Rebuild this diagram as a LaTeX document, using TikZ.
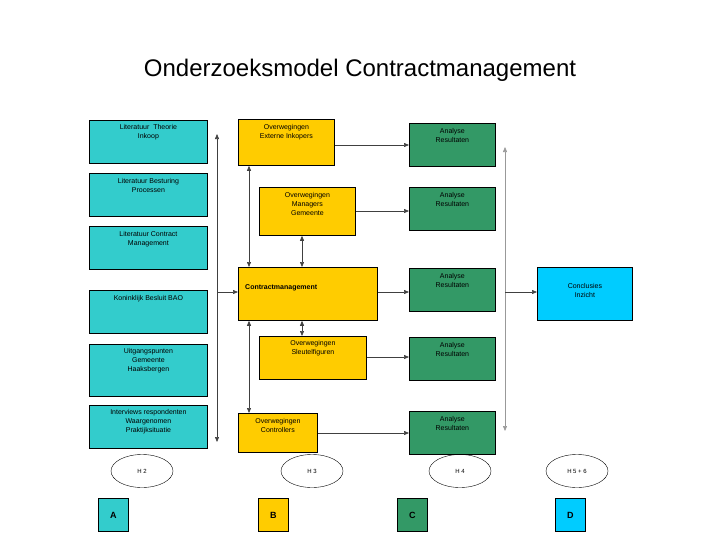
\documentclass[tikz,border=0pt]{standalone}
\usepackage{fontspec}
\setmainfont{Liberation Sans}
\usetikzlibrary{arrows.meta,shapes.geometric,calc}
\definecolor{cy}{HTML}{33CCCC}
\definecolor{ye}{HTML}{FFCC00}
\definecolor{gr}{HTML}{339966}
\definecolor{sk}{HTML}{00CCFF}
\begin{document}
\begin{tikzpicture}[x=1pt,y=-1pt,
 bx/.style={draw=black,line width=0.8pt,anchor=north west,inner sep=1pt,align=center,font=\fontsize{7}{9}\selectfont},
 ar/.style={-{Triangle[length=5pt,width=4pt]},draw=black!75,line width=0.6pt},
 dar/.style={{Triangle[length=5pt,width=4pt]}-{Triangle[length=5pt,width=4pt]},draw=black!75,line width=0.6pt},
 el/.style={draw=black,ellipse,minimum width=62pt,minimum height=33pt,font=\fontsize{6}{7}\selectfont},
 lt/.style={draw=black,line width=0.8pt,anchor=north west,minimum width=30pt,minimum height=33pt,inner sep=3pt,font=\bfseries\fontsize{9}{10}\selectfont},
 tx/.style={anchor=north,align=center,inner sep=0pt,font=\fontsize{7}{9}\selectfont}]
\useasboundingbox (0,0) rectangle (728,546);
\node[font=\fontsize{24}{28}\selectfont] (title) at (360,70) {Onderzoeksmodel Contractmanagement};
\node[bx,fill=cy,minimum width=118pt,minimum height=43pt] (l1) at (89,120) {};
\node[bx,fill=cy,minimum width=118pt,minimum height=43pt] (l2) at (89,173) {};
\node[bx,fill=cy,minimum width=118pt,minimum height=43pt] (l3) at (89,226) {};
\node[bx,fill=cy,minimum width=118pt,minimum height=43pt] (l4) at (89,290) {};
\node[bx,fill=cy,minimum width=118pt,minimum height=52pt] (l5) at (89,344) {};
\node[bx,fill=cy,minimum width=118pt,minimum height=43pt] (l6) at (89,405) {};
\node[bx,fill=ye,minimum width=96pt,minimum height=46pt] (y1) at (238,119) {};
\node[bx,fill=ye,minimum width=96pt,minimum height=48pt] (y2) at (259,187) {};
\node[bx,fill=ye,minimum width=139pt,minimum height=53pt] (y3) at (238,267) {};
\node[bx,fill=ye,minimum width=107pt,minimum height=43pt] (y4) at (259,336) {};
\node[bx,fill=ye,minimum width=79pt,minimum height=39pt] (y5) at (238,413) {};
\foreach \n/\y in {g1/123,g2/187,g3/268,g4/337,g5/411}
 \node[bx,fill=gr,minimum width=86pt,minimum height=43pt] (\n) at (409,\y) {};
\node[bx,fill=sk,minimum width=95pt,minimum height=53pt] (d) at (537,267) {};
% texts
\node[tx] (l1t) at ($(l1.north)+(0,4)$) {Literatuur\ \ Theorie\\Inkoop};
\node[tx] (l2t) at ($(l2.north)+(0,5)$) {Literatuur Besturing\\Processen};
\node[tx] (l3t) at ($(l3.north)+(0,5)$) {Literatuur Contract\\Management};
\node[tx] (l4t) at ($(l4.north)+(0,5)$) {Koninklijk Besluit BAO};
\node[tx] (l5t) at ($(l5.north)+(0,4)$) {Uitgangspunten\\Gemeente\\Haaksbergen};
\node[tx] (l6t) at ($(l6.north)+(0,4)$) {Interviews respondenten\\Waargenomen\\Praktijksituatie};
\node[tx] (y1t) at ($(y1.north)+(0,5)$) {Overwegingen\\Externe Inkopers};
\node[tx] (y2t) at ($(y2.north)+(0,5)$) {Overwegingen\\Managers\\Gemeente};
\node[tx,anchor=west,font=\bfseries\fontsize{7}{9}\selectfont] (y3t) at (245,288) {Contractmanagement};
\node[tx] (y4t) at ($(y4.north)+(0,4)$) {Overwegingen\\Sleutelfiguren};
\node[tx] (y5t) at ($(y5.north)+(0,5)$) {Overwegingen\\Controllers};
\foreach \n in {g1,g2,g3,g4,g5}
 \node[tx] (\n t) at ($(\n.north)+(0,5)$) {Analyse\\Resultaten};
\node[tx] (dt) at ($(d.north)+(0,16)$) {Conclusies\\Inzicht};
% connectors
\coordinate (vt) at (217,134); \coordinate (vb) at (217,442); \coordinate (vm) at (217,292);
\draw[dar] (vt) -- (vb);
\draw[ar] (vm) -- (vm -| y3.west);
\draw[dar] (y1.south -| 249,0) -- (y3.north -| 249,0);
\draw[dar] (y2.south -| 302,0) -- (y3.north -| 302,0);
\draw[dar] (y3.south -| 302,0) -- (y4.north -| 302,0);
\draw[dar] (y3.south -| 249,0) -- (y5.north -| 249,0);
\draw[ar] (y1.east |- 0,145) -- (g1.west |- 0,145);
\draw[ar] (y2.east |- 0,211) -- (g2.west |- 0,211);
\draw[ar] (y3.east |- 0,292) -- (g3.west |- 0,292);
\draw[ar] (y4.east |- 0,357) -- (g4.west |- 0,357);
\draw[ar] (y5.east |- 0,433) -- (g5.west |- 0,433);
\coordinate (rt) at (505,147); \coordinate (rb) at (505,431); \coordinate (rm) at (505,292);
\draw[dar,draw=black!40] (rt) -- (rb);
\draw[ar] (rm) -- (d.west |- rm);
% ellipses
\node[el] (h2) at (142,471) {H 2};
\node[el] (h3) at (312,471) {H 3};
\node[el] (h4) at (460,471) {H 4};
\node[el] (h5) at (577,471) {H 5 + 6};
\node[lt,fill=cy] (A) at (98,498) {A};
\node[lt,fill=ye] (B) at (258,498) {B};
\node[lt,fill=gr] (C) at (397,498) {C};
\node[lt,fill=sk] (D) at (555,498) {D};
\end{tikzpicture}
\end{document}
